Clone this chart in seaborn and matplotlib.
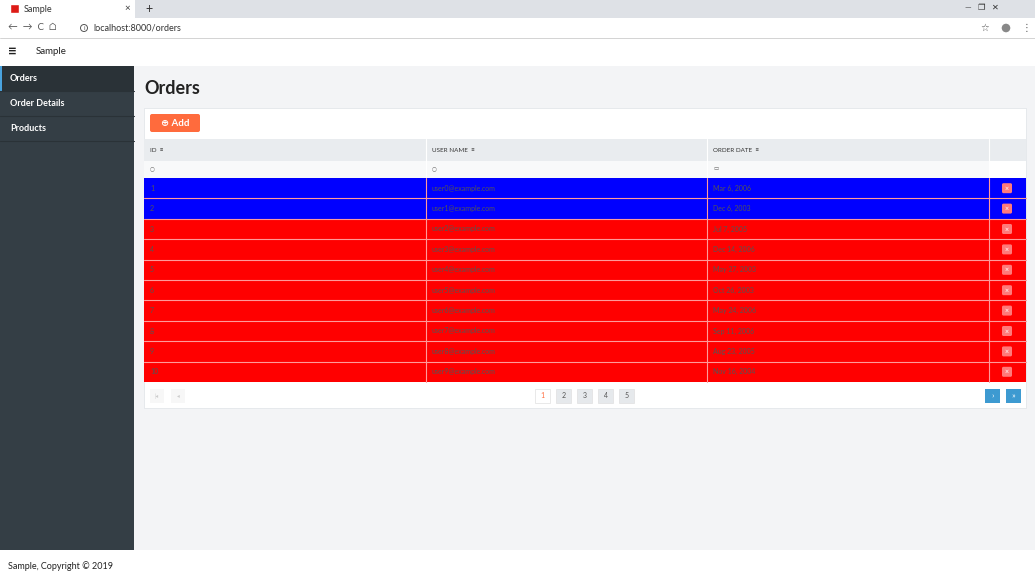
import matplotlib
matplotlib.use("Agg")
import matplotlib.pyplot as plt
import seaborn as sns
import numpy as np
from matplotlib.colors import ListedColormap
from matplotlib.patches import Rectangle, FancyBboxPatch, Circle

sns.set_theme(style="white")
plt.rcParams['font.family'] = ['Lato', 'DejaVu Sans']

ids = [1, 2, 3, 4, 5, 6, 7, 8, 9, 10]
users = [f"user{i}@example.com" for i in range(10)]
dates = ["Mar 6, 2006", "Dec 6, 2003", "Jul 7, 2005", "Dec 14, 2006", "May 27, 2003",
         "Oct 26, 2003", "May 24, 2006", "Sep 11, 2006", "Aug 23, 2005", "Nov 16, 2004"]
row_flag = [0, 0, 1, 1, 1, 1, 1, 1, 1, 1]  # 0 = blue row, 1 = red row
columns = ["ID", "USER NAME", "ORDER DATE"]
menu = ["Orders", "Order Details", "Products"]
pages = ["1", "2", "3", "4", "5"]

W, H = 1035, 582
fig = plt.figure(figsize=(W/100, H/100), dpi=100)

def mk(z):
    a = fig.add_axes([0, 0, 1, 1])
    a.set_xlim(0, W); a.set_ylim(H, 0); a.axis('off'); a.set_zorder(z)
    a.patch.set_visible(False)
    return a

ax = mk(0)

def rect(x, y, w, h, c, z=1, ec='none', lw=0, a=None):
    (a or ax).add_patch(Rectangle((x, y), w, h, facecolor=c, edgecolor=ec, lw=lw, zorder=z))

# background
rect(0, 0, W, H, '#f3f4f6', 0)
# browser chrome
rect(0, 0, W, 18, '#dee1e6')
rect(0, 0, 135, 18, '#ffffff')
ax.add_patch(Rectangle((10, 4), 9, 9, facecolor='#dd1b16', zorder=2))
ax.text(24, 9, "Sample", fontsize=6.5, va='center', color='#333')
ax.text(124, 9, "×", fontsize=7, va='center', color='#333')
ax.text(145, 9, "+", fontsize=9, va='center', color='#333')
ax.text(965, 8, "—   ❐   ✕", fontsize=6, va='center', color='#333')
rect(0, 18, W, 20, '#ffffff')
ax.text(8, 28, "←  →  C  ⌂", fontsize=7, va='center', color='#555')
ax.add_patch(Circle((84, 28), 3.5, facecolor='none', edgecolor='#555', lw=0.7, zorder=2))
ax.text(84, 28, "i", fontsize=4.5, va='center', ha='center', color='#555')
ax.text(93, 28, "localhost:8000/orders", fontsize=6.5, va='center', color='#333')
ax.text(980, 28, "☆", fontsize=7, va='center', color='#555')
ax.add_patch(Circle((1006, 28), 5, facecolor='#888', zorder=2))
ax.text(1022, 28, "⋮", fontsize=7, va='center', color='#555')
ax.plot([0, W], [38, 38], color='#ccc', lw=0.6)
# app header
rect(0, 38, W, 28, '#ffffff')
ax.text(8, 52, "≡", fontsize=11, va='center', color='#222', fontweight='bold')
ax.text(36, 52, "Sample", fontsize=7, va='center', color='#222')
# sidebar
rect(0, 66, 134, 484, '#343e45')
for i, m in enumerate(menu):
    y = 66 + i*25
    if i == 0:
        rect(0, y, 134, 25, '#2a3237', 2)
        rect(0, y, 2, 25, '#4aa3df', 3)
    ax.plot([0, 134], [y+25, y+25], color='#2a3237', lw=0.8, zorder=3)
    ax.text(10, y+12.5, m, fontsize=6.5, va='center', color='white', fontweight='bold', zorder=4)
# footer
rect(0, 550, W, 32, '#ffffff')
ax.text(8, 566, "Sample, Copyright © 2019", fontsize=6.5, va='center', color='#222')
# title
ax.text(144, 89, "Orders", fontsize=13, va='center', color='#222', fontweight='bold')
# card
rect(144, 108, 882, 300, '#ffffff', 1, ec='#e3e6ea', lw=0.6)
ax.add_patch(FancyBboxPatch((150, 114), 50, 18, boxstyle="round,pad=0,rounding_size=2",
                            facecolor='#ff6b3d', edgecolor='none', zorder=2))
ax.text(175, 123, "⊕ Add", fontsize=7, va='center', ha='center', color='white', fontweight='bold', zorder=3)
# header row
rect(144, 139, 882, 22, '#e9ecef', 2)
rect(144, 161, 845, 17, '#f8f9fa', 2)
col_x = [144, 426, 707, 989]
for i, c in enumerate(columns):
    ax.text(col_x[i]+6, 150, c + "  ≡", fontsize=4.5, va='center', color='#333', zorder=3)
    ax.text(col_x[i]+6, 169, "○" if i < 2 else "▭", fontsize=4, va='center', color='#666',
            zorder=3, family=['DejaVu Sans'])
for x in col_x[1:]:
    ax.plot([x, x], [139, 178], color='#fff', lw=0.8, zorder=3)

# table body via seaborn heatmap
tax = fig.add_axes([144/W, 1-382/H, (1026-144)/W, (382-178)/H])
tax.set_zorder(1)
data = np.array(row_flag)[:, None]
sns.heatmap(data, ax=tax, cmap=ListedColormap(['#0000ff', '#ff0000']), cbar=False,
            linewidths=0, xticklabels=False, yticklabels=False)
tax.axis('off')

ov = mk(2)
rh = (382 - 178) / 10
for r in range(1, 10):
    ov.plot([144, 1026], [178 + r*rh]*2, color='#ff9a9a', lw=0.8)
for x in col_x[1:]:
    ov.plot([x, x], [178, 382], color='#ff9a9a', lw=0.8)
for r in range(10):
    y = 178 + (r+0.5)*rh
    ov.text(150, y, str(ids[r]), fontsize=5, va='center', color='#555')
    ov.text(431, y, users[r], fontsize=5, va='center', color='#555')
    ov.text(713, y, dates[r], fontsize=5, va='center', color='#555')
    ov.add_patch(FancyBboxPatch((1002, y-5), 10, 10, boxstyle="round,pad=0,rounding_size=1.5",
                                facecolor='#ff7a7a', edgecolor='none', zorder=5))
    ov.text(1007, y, "×", fontsize=5, va='center', ha='center', color='white', zorder=6)

# pagination
for i, t in enumerate(["|◂", "◂"]):
    rect(150 + i*21, 389, 14, 14, '#f7f7f7', 2)
    ax.text(157 + i*21, 396, t, fontsize=4, ha='center', va='center', color='#ccc', zorder=3)
for i, p in enumerate(pages):
    x = 535 + i*21
    rect(x, 389, 15, 14, '#ffffff' if i == 0 else '#e6e9ec', 2, ec='#e0e0e0', lw=0.5)
    ax.text(x+7.5, 396, p, fontsize=5, ha='center', va='center', color='#ff6b3d' if i == 0 else '#555', zorder=3)
for i, t in enumerate(["›", "»"]):
    rect(985 + i*21, 389, 15, 14, '#3d9ad1', 2)
    ax.text(992.5 + i*21, 396, t, fontsize=6, ha='center', va='center', color='white', zorder=3)

fig.savefig("out.png", dpi=100)
